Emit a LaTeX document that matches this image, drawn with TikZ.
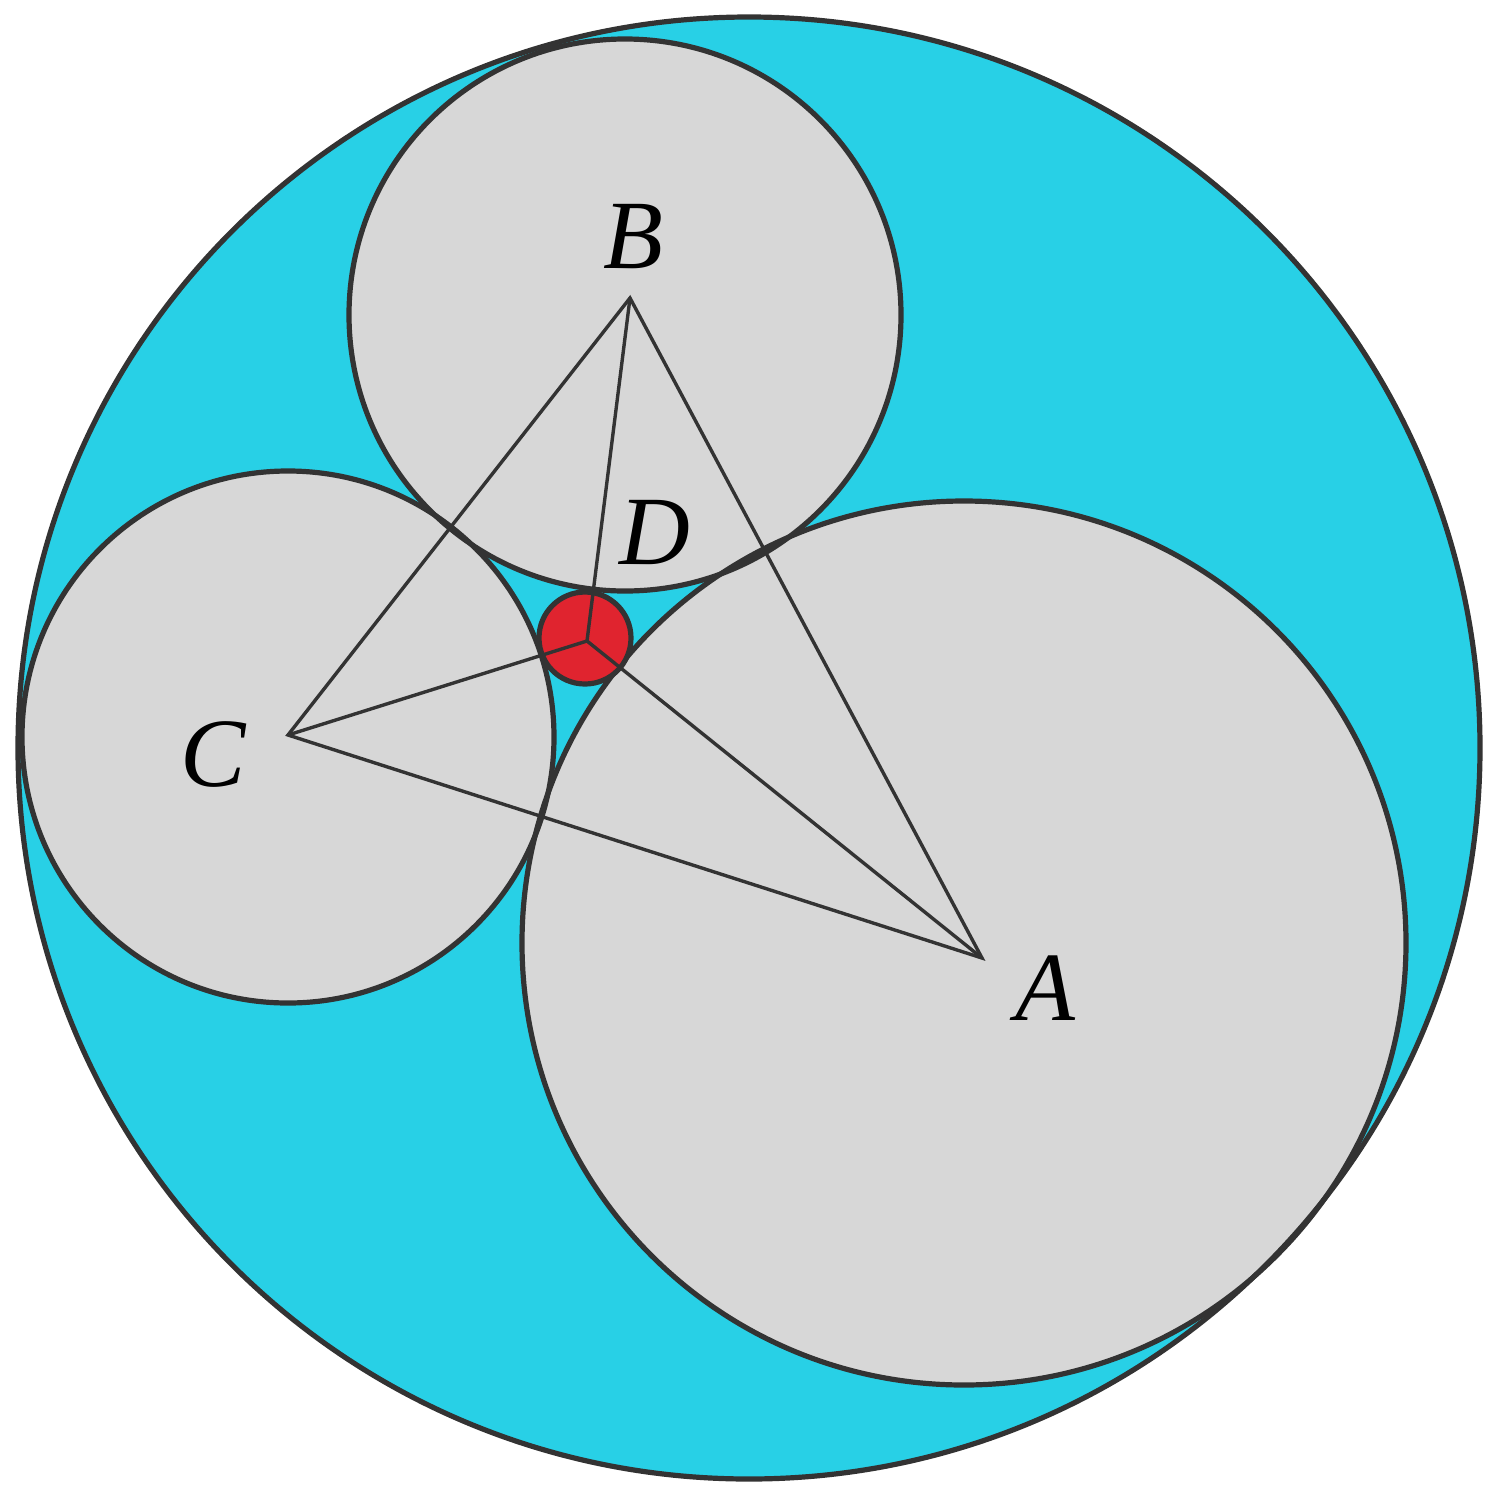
\documentclass[tikz,border=0pt]{standalone}
\usepackage{fontspec}
\setmainfont{Liberation Serif}
\definecolor{cyanf}{HTML}{28D0E6}
\definecolor{grayf}{HTML}{D7D7D7}
\definecolor{redf}{HTML}{E0242F}
\definecolor{ink}{HTML}{333333}
\begin{document}
\begin{tikzpicture}[x=0.5pt,y=-0.5pt,
  circ/.style={draw=ink,line width=2.6pt},
  tri/.style={draw=ink,line width=1.7pt},
  lab/.style={font=\fontsize{49}{49}\selectfont\itshape,text=black}]
\useasboundingbox (0,0) rectangle (1500,1500);
\fill[cyanf] (749,748) circle (731*0.5pt);
\fill[grayf] (964,943) circle (442*0.5pt);
\fill[grayf] (288,737) circle (266*0.5pt);
\fill[grayf] (625,315) circle (276*0.5pt);
\draw[circ] (749,748) circle (731*0.5pt);
\draw[circ] (964,943) circle (442*0.5pt);
\draw[circ] (288,737) circle (266*0.5pt);
\draw[circ] (625,315) circle (276*0.5pt);
\draw[circ,fill=redf] (585,638) circle (46*0.5pt);
\coordinate (A) at (982,958);
\coordinate (B) at (630,298);
\coordinate (C) at (288,735);
\coordinate (D) at (587,641);
\draw[tri,line join=miter] (A) -- (B) -- (C) -- cycle;
\draw[tri] (D) -- (A);
\draw[tri] (D) -- (B);
\draw[tri] (D) -- (C);
\node[lab] (lA) at (1045,988) {A};
\node[lab] (lB) at (633,237) {B};
\node[lab] (lC) at (213,754) {C};
\node[lab] (lD) at (655,533) {D};
\end{tikzpicture}
\end{document}
